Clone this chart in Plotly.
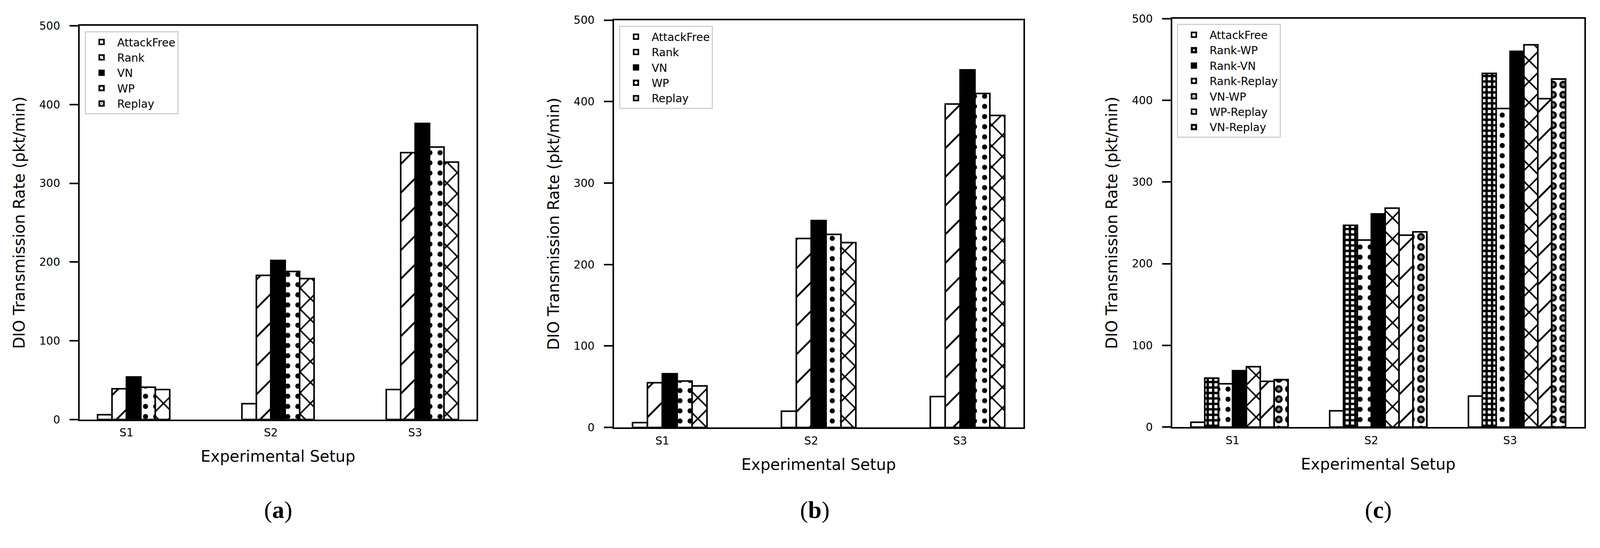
import plotly.graph_objs as go

setups = ['S1', 'S2', 'S3']

# (a) single attacks, first scenario
a_attack_free = [6, 20, 38]
a_rank = [39, 183, 339]
a_vn = [54, 202, 376]
a_wp = [41, 188, 346]
a_replay = [38, 179, 327]

# (b) single attacks, second scenario
b_attack_free = [6, 20, 38]
b_rank = [55, 232, 397]
b_vn = [66, 254, 439]
b_wp = [57, 237, 410]
b_replay = [51, 227, 383]

# (c) combined attacks
c_attack_free = [6, 20, 38]
c_rank_wp = [60, 247, 433]
c_rank_vn = [69, 261, 460]
c_rank_replay = [53, 229, 390]
c_vn_wp = [74, 268, 468]
c_wp_replay = [56, 235, 402]
c_vn_replay = [58, 239, 426]

BAR_W = 0.1
FONT = 'DejaVu Sans'

# hatch styles: (fill, pattern shape, pattern size, solidity)
PLAIN = ('white', '', 8, 0.3)
SOLID = ('black', '', 8, 0.3)
DIAG = ('white', '/', 52, 0.09)
DOTS = ('white', '.', 26, 0.2)
CROSS = ('white', 'x', 38, 0.2)
GRID = ('white', '+', 14, 0.68)
RINGS = ('white', '.', 26, 0.46)


def bar(name, values, slot, n, style, legend, show=True):
	fill, shape, size, solidity = style
	return go.Bar(
		x=[i + slot * BAR_W for i in range(len(values))],
		y=values,
		width=BAR_W,
		name=name,
		xaxis='x' + n,
		yaxis='y' + n,
		legend=legend,
		showlegend=show,
		marker=dict(
			color=fill,
			line=dict(color='black', width=4),
			pattern=dict(shape=shape, size=size, solidity=solidity,
				fgcolor='black', bgcolor=fill, fillmode='replace')
		)
	)


traces = [
	bar('AttackFree', a_attack_free, 0, '', PLAIN, 'legend'),
	bar('Rank', a_rank, 1, '', DIAG, 'legend'),
	bar('VN', a_vn, 2, '', SOLID, 'legend'),
	bar('WP', a_wp, 3, '', DOTS, 'legend'),
	bar('Replay', a_replay, 4, '', CROSS, 'legend'),

	bar('AttackFree', b_attack_free, 0, '2', PLAIN, 'legend2'),
	bar('Rank', b_rank, 1, '2', DIAG, 'legend2'),
	bar('VN', b_vn, 2, '2', SOLID, 'legend2'),
	bar('WP', b_wp, 3, '2', DOTS, 'legend2'),
	bar('Replay', b_replay, 4, '2', CROSS, 'legend2'),

	bar('AttackFree', c_attack_free, 0, '3', PLAIN, 'legend3'),
	bar('Rank-WP', c_rank_wp, 1, '3', GRID, 'legend3'),
	bar('Rank-VN', c_rank_vn, 3, '3', SOLID, 'legend3'),
	bar('Rank-Replay', c_rank_replay, 2, '3', DOTS, 'legend3'),
	bar('VN-WP', c_vn_wp, 4, '3', CROSS, 'legend3'),
	bar('WP-Replay', c_wp_replay, 5, '3', DIAG, 'legend3'),
	bar('VN-Replay', c_vn_replay, 6, '3', RINGS, 'legend3'),
]

# white centres punched into the VN-Replay dots to make rings
rings = go.Bar(
	x=[i + 6 * BAR_W for i in range(len(c_vn_replay))],
	y=c_vn_replay,
	width=BAR_W,
	xaxis='x3',
	yaxis='y3',
	legend='legend3',
	showlegend=False,
	marker=dict(
		color='rgba(0,0,0,0)',
		line=dict(color='black', width=4),
		pattern=dict(shape='.', size=26, solidity=0.09,
			fgcolor='white', bgcolor='rgba(0,0,0,0)', fillmode='overlay')
	)
)
traces.append(rings)


def xaxis(domain, anchor, rng, centre):
	return dict(
		domain=domain, anchor=anchor, range=rng, automargin=False,
		tickvals=[i + centre * BAR_W for i in range(len(setups))],
		ticktext=setups,
		ticks='', ticklabelstandoff=6,
		showline=True, mirror=True, linecolor='black', linewidth=4,
		showgrid=False, zeroline=False,
		tickfont=dict(family=FONT, size=28, color='black'),
		title=dict(text='Experimental Setup', standoff=32,
			font=dict(family=FONT, size=40, color='black'))
	)


def yaxis(domain, anchor):
	return dict(
		domain=domain, anchor=anchor, range=[0, 500], dtick=100, automargin=False,
		ticks='outside', ticklen=22, tickwidth=4, tickcolor='black',
		ticklabelstandoff=18,
		showline=True, mirror=True, linecolor='black', linewidth=4,
		showgrid=False, zeroline=False,
		tickfont=dict(family=FONT, size=28, color='black'),
		title=dict(text='DIO Transmission Rate (pkt/min)', standoff=26,
			font=dict(family=FONT, size=40, color='black'))
	)


def legend(x, y):
	return dict(
		x=x, y=y, xanchor='left', yanchor='top',
		bgcolor='white', bordercolor='#d0d0d0', borderwidth=3,
		font=dict(family=FONT, size=28, color='black'),
		itemwidth=70, tracegroupgap=0
	)


def panel_label(letter, x):
	return dict(
		text='(<b>' + letter + '</b>)', x=x, y=0.045,
		xref='paper', yref='paper', showarrow=False,
		xanchor='center', yanchor='middle',
		font=dict(family='Liberation Serif', size=62, color='black')
	)


fig = go.Figure(
	data=traces,
	layout=go.Layout(
		width=4204,
		height=1404,
		margin=dict(l=0, r=0, t=0, b=0),
		paper_bgcolor='white',
		plot_bgcolor='white',
		barmode='overlay',
		xaxis=xaxis([0.0497, 0.2978], 'y', [-0.175, 2.575], 1.5),
		yaxis=yaxis([0.2144, 0.9516], 'x'),
		xaxis2=xaxis([0.3837, 0.6396], 'y2', [-0.175, 2.575], 1.5),
		yaxis2=yaxis([0.1994, 0.9623], 'x2'),
		xaxis3=xaxis([0.7326, 0.9902], 'y3', [-0.185, 2.785], 2.5),
		yaxis3=yaxis([0.2001, 0.9651], 'x3'),
		legend=legend(0.0530, 0.9416),
		legend2=legend(0.3870, 0.9516),
		legend3=legend(0.7357, 0.9551),
		annotations=[
			panel_label('a', 0.1738),
			panel_label('b', 0.5093),
			panel_label('c', 0.8614),
		]
	)
)

# fit the figure to the page width, keeping the 4204x1404 proportions
fit_page = """
document.body.style.margin = '0';
document.body.style.overflow = 'hidden';
var w = document.documentElement.clientWidth || window.innerWidth;
Plotly.relayout(document.getElementById('{plot_id}'),
	{width: w, height: Math.round(w * 1404 / 4204)});
"""

fig.write_html('out.html', post_script=fit_page,
	config={'displayModeBar': False})
